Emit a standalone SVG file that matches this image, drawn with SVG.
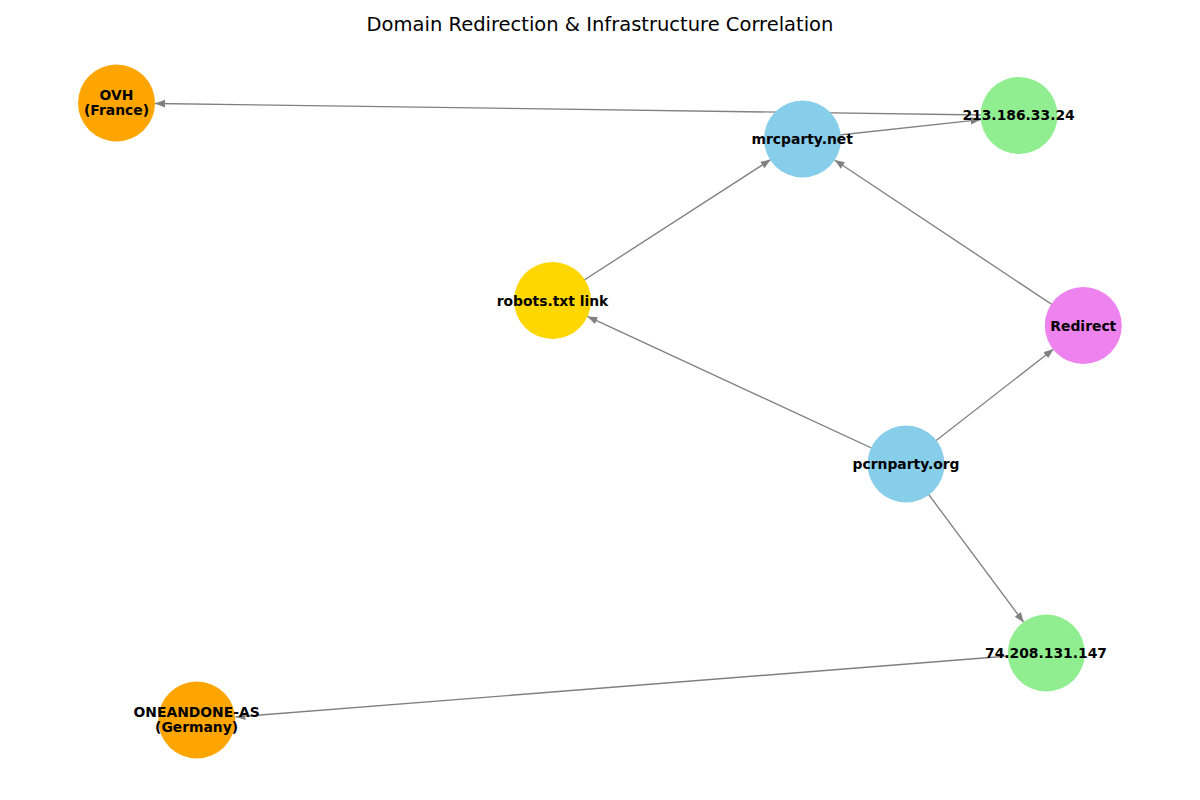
<svg xmlns="http://www.w3.org/2000/svg" width="1200" height="800" viewBox="0 0 1200 800">
<style>
text{font-family:"DejaVu Sans",sans-serif;text-anchor:middle;fill:#000}
.l{font-size:13.89px;font-weight:bold}
.t{font-size:19.5px}
.e{stroke:#808080;stroke-width:1.35;fill:none;marker-end:url(#a)}
.b{fill:#87ceeb}.g{fill:#90ee90}.o{fill:#ffa500}.y{fill:#ffd700}.v{fill:#ee82ee}
</style>
<defs><marker id="a" markerUnits="userSpaceOnUse" markerWidth="12" markerHeight="10" refX="10" refY="4" orient="auto"><path d="M0,0.2L10,4L0,7.8Z" fill="#808080"/></marker></defs>
<rect width="1200" height="800" fill="#fff"/>
<text class="t" x="600" y="30.5">Domain Redirection &amp; Infrastructure Correlation</text>
<g id="connectors">
<line class="e" x1="1019" y1="115.5" x2="155" y2="103.5"/>
<line class="e" x1="802.5" y1="139" x2="980.7" y2="119.7"/>
<line class="e" x1="552.5" y1="300.5" x2="770.7" y2="159.6"/>
<line class="e" x1="1083.5" y1="325.5" x2="834.6" y2="160"/>
<line class="e" x1="906" y1="464" x2="587.4" y2="316.4"/>
<line class="e" x1="906" y1="464" x2="1053.6" y2="349"/>
<line class="e" x1="906" y1="464" x2="1023.8" y2="622.4"/>
<line class="e" x1="1046.5" y1="653" x2="235.4" y2="717"/>
</g>
<g id="ovh"><circle class="o" cx="116.5" cy="103" r="38.5"/><text class="l" x="116.5" y="99.5">OVH</text><text class="l" x="116.5" y="115">(France)</text></g>
<g id="ip1"><circle class="g" cx="1019" cy="115.5" r="38.5"/><text class="l" x="1018.6" y="120.4">213.186.33.24</text></g>
<g id="mrcparty"><circle class="b" cx="802.5" cy="139" r="38.5"/><text class="l" x="802.2" y="143.5">mrcparty.net</text></g>
<g id="robots"><circle class="y" cx="552.5" cy="300.5" r="38.5"/><text class="l" x="552.5" y="305.5">robots.txt link</text></g>
<g id="redirect"><circle class="v" cx="1083.3" cy="325.5" r="38.5"/><text class="l" x="1083.3" y="330.5">Redirect</text></g>
<g id="pcrnparty"><circle class="b" cx="906" cy="464" r="38.5"/><text class="l" x="906" y="468.5">pcrnparty.org</text></g>
<g id="ip2"><circle class="g" cx="1046.3" cy="653" r="38.5"/><text class="l" x="1046" y="657.8">74.208.131.147</text></g>
<g id="oneandone"><circle class="o" cx="196.8" cy="720" r="38.5"/><text class="l" x="196.6" y="716.5">ONEANDONE-AS</text><text class="l" x="196.6" y="732">(Germany)</text></g>
</svg>
